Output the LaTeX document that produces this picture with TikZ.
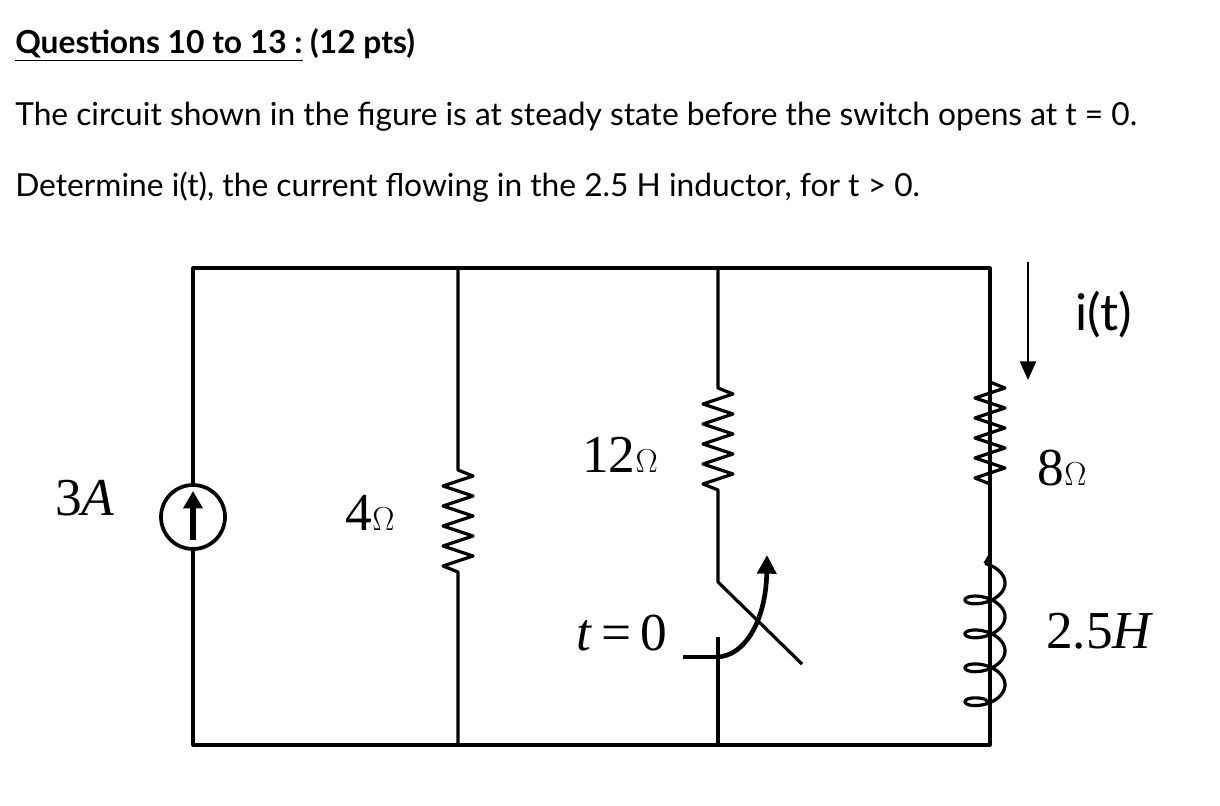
\documentclass[tikz,border=0pt]{standalone}
\usepackage{fontspec}
\setmainfont{Lato}
\newfontfamily\serifm{Liberation Serif}
\usetikzlibrary{arrows.meta}
\begin{document}
\begin{tikzpicture}[x=0.75pt,y=-0.75pt,
  wire/.style={line width=2.4pt,line join=round},
  lbl/.style={font=\fontsize{40}{42}\selectfont\serifm, inner sep=0pt},
  hdr/.style={font=\fontsize{23.8}{26}\selectfont, anchor=west, inner sep=0pt}]
\useasboundingbox (0,0) rectangle (1220,806);
\node[hdr] (h1) at (15,45) {\textbf{\underline{Questions 10 to 13 :} (12 pts)}};
\node[hdr] (h2) at (15,117) {The circuit shown in the figure is at steady state before the switch opens at t = 0.};
\node[hdr] (h3) at (15,187) {Determine i(t), the current flowing in the 2.5 H inductor, for t > 0.};
% coordinates
\coordinate (TL) at (193,268); \coordinate (TR) at (990,268);
\coordinate (BL) at (193,745); \coordinate (BR) at (990,745);
\coordinate (T2) at (458,268); \coordinate (B2) at (458,745);
\coordinate (T3) at (718,268); \coordinate (B3) at (718,745);
\draw[wire] (BL) -- (TL) -- (TR) -- (BR) -- cycle;
% current source
\node[circle,draw,line width=2.8pt,minimum size=48pt,fill=white] (cs) at (193,517) {};
\draw[line width=4.5pt,-{Triangle[length=13pt,width=14pt]}] (193,540) -- (193,491);
\node[lbl] (l3a) at (85,498) {3\textit{A}};
% 4 ohm
\draw[wire] (T2) -- (458,470) -- (473,476) -- (443,486) -- (473,496) -- (443,506) -- (473,516) -- (443,526) -- (473,536) -- (443,546) -- (473,556) -- (443,566) -- (458,572) -- (B2);
\node[lbl] (l4) at (370,513) {4$\Omega$};
% 12 ohm + switch
\draw[wire] (T3) -- (718,388) -- (733,394) -- (703,404) -- (733,414) -- (703,424) -- (733,434) -- (703,444) -- (733,454) -- (703,464) -- (733,474) -- (703,484) -- (718,490) -- (718,582) -- (802,664);
\node[lbl] (l12) at (620,455) {12$\Omega$};
\draw[wire] (B3) -- (718,637);
\draw[line width=3.5pt] (683,657) -- (716,657);
\draw[line width=3.5pt,-{Triangle[length=14pt,width=14pt]}] (716,657) .. controls (745,657) and (766,620) .. (767,555);
\node[lbl] (lt0) at (622,633) {\textit{t}\,=\,0};
% 8 ohm + inductor
\draw[wire] (TR) -- (990,382) -- (1005,388) -- (975,398) -- (1005,408) -- (975,418) -- (1005,428) -- (975,438) -- (1005,448) -- (975,458) -- (1005,468) -- (975,478) -- (990,484) -- (990,555) -- (985,563.5);
\draw[wire] plot[domain=1.5708:26.704,samples=300] ({985-20*cos(\x r)}, {566+5.4*\x-11*sin(\x r)});
\draw[wire] (985,699) -- (990,705) -- (BR);
\node[lbl] (l8) at (1062,468) {8$\Omega$};
\node[lbl] (lL) at (1100,631) {2.5\textit{H}};
% i(t)
\coordinate (ia) at (1028,262); \coordinate (ib) at (1028,380);
\draw[line width=2pt,-{Triangle[length=14pt,width=12pt]}] (ia) -- (ib);
\node[font=\fontsize{38}{40}\selectfont,inner sep=0pt] (it) at (1104,315) {i(t)};
\end{tikzpicture}
\end{document}
